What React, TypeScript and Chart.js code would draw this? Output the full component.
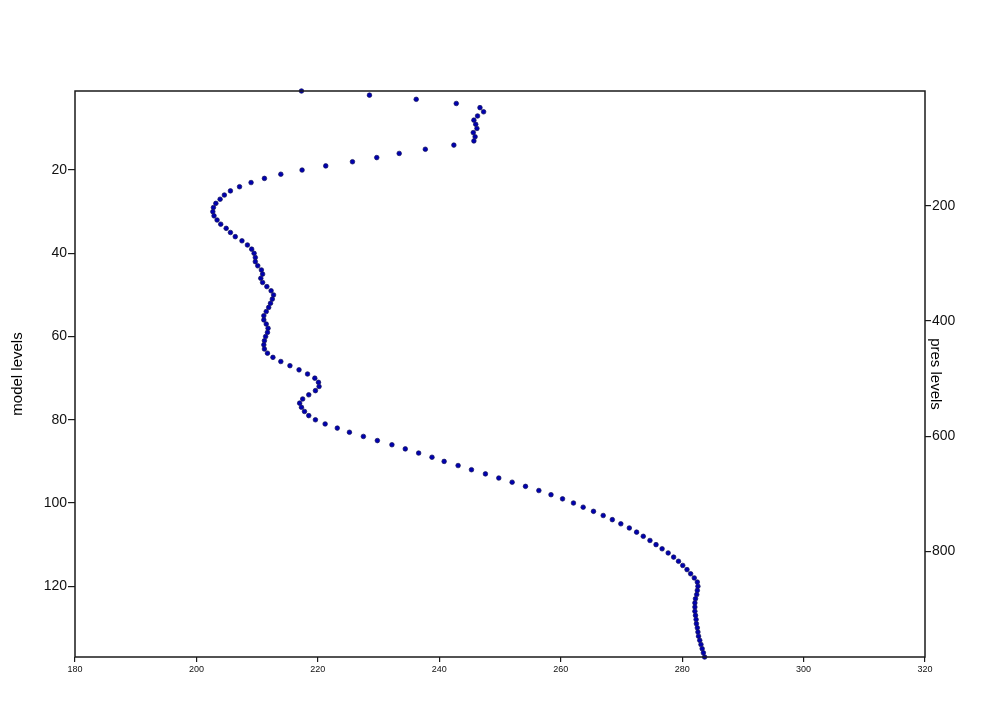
import React, { useEffect, useRef } from 'react';
import { Chart, registerables } from 'chart.js';

Chart.register(...registerables);

// temperature (K) on each model level, level 1 at the top
const temperature: number[] = [
  217.3, 228.5, 236.2, 242.8, 246.7, 247.3, 246.3, 245.7, 246.0, 246.2,
  245.6, 245.9, 245.7, 242.4, 237.7, 233.4, 229.7, 225.7, 221.3, 217.4,
  213.9, 211.2, 209.0, 207.1, 205.6, 204.6, 203.9, 203.2, 202.8, 202.7,
  202.9, 203.4, 204.0, 204.9, 205.6, 206.4, 207.5, 208.4, 209.1, 209.5,
  209.7, 209.7, 210.1, 210.7, 210.9, 210.6, 210.9, 211.6, 212.3, 212.7,
  212.5, 212.2, 211.9, 211.5, 211.1, 211.1, 211.5, 211.8, 211.7, 211.4,
  211.2, 211.1, 211.2, 211.7, 212.6, 213.9, 215.4, 216.9, 218.3, 219.5,
  220.1, 220.2, 219.6, 218.5, 217.5, 217.0, 217.3, 217.8, 218.5, 219.6,
  221.2, 223.2, 225.2, 227.5, 229.8, 232.2, 234.4, 236.6, 238.8, 240.8,
  243.1, 245.3, 247.6, 249.8, 252.0, 254.2, 256.4, 258.4, 260.3, 262.1,
  263.7, 265.4, 267.0, 268.5, 269.9, 271.3, 272.5, 273.6, 274.7, 275.7,
  276.7, 277.7, 278.6, 279.4, 280.1, 280.8, 281.4, 282.0, 282.5, 282.6,
  282.5, 282.4, 282.2, 282.1, 282.1, 282.1, 282.2, 282.3, 282.35, 282.5,
  282.6, 282.7, 282.9, 283.1, 283.3, 283.5, 283.7,
];
const modelLevels: number[] = temperature.map((_, i) => i + 1);

const xTicks = [180, 200, 220, 240, 260, 280, 300, 320];
const levelTicks = [20, 40, 60, 80, 100, 120];
const presTicks = [200, 400, 600, 800];

const FONT = '"Liberation Sans", Arial, sans-serif';
const AXIS = '#1a1a1a';

const frameAndTitles = {
  id: 'frameAndTitles',
  afterDraw(chart: any) {
    const { ctx, chartArea } = chart;
    ctx.save();
    ctx.strokeStyle = AXIS;
    ctx.lineWidth = 1.5;
    ctx.strokeRect(chartArea.left, chartArea.top, chartArea.right - chartArea.left, chartArea.bottom - chartArea.top);
    const midY = (chartArea.top + chartArea.bottom) / 2;
    ctx.fillStyle = '#000';
    ctx.font = `15px ${FONT}`;
    ctx.textAlign = 'center';
    ctx.textBaseline = 'middle';
    ctx.translate(18, midY);
    ctx.rotate(-Math.PI / 2);
    ctx.fillText('model levels', 0, 0);
    ctx.restore();
    ctx.save();
    ctx.fillStyle = '#000';
    ctx.font = `15px ${FONT}`;
    ctx.textAlign = 'center';
    ctx.textBaseline = 'middle';
    ctx.translate(935, midY);
    ctx.rotate(Math.PI / 2);
    ctx.fillText('pres levels', 0, 0);
    ctx.restore();
  },
};

const App: React.FC = () => {
  const canvasRef = useRef<HTMLCanvasElement | null>(null);

  useEffect(() => {
    if (!canvasRef.current) return;
    const chart = new Chart(canvasRef.current, {
      type: 'scatter',
      data: {
        datasets: [
          {
            data: temperature.map((t, i) => ({ x: t, y: modelLevels[i] })),
            backgroundColor: '#0000b0',
            borderColor: '#14145a',
            borderWidth: 0.7,
            pointRadius: 2.3,
            clip: false as any,
          },
        ],
      },
      options: {
        responsive: false,
        animation: false,
        layout: { padding: { top: 91, left: 0, right: 0, bottom: 0 } },
        plugins: { legend: { display: false }, tooltip: { enabled: false } },
        scales: {
          x: {
            type: 'linear',
            min: 180,
            max: 320,
            afterBuildTicks: (s: any) => { s.ticks = xTicks.map((v) => ({ value: v })); },
            afterFit: (s: any) => { s.height = 50; },
            grid: { drawOnChartArea: false, tickLength: 5, color: AXIS, lineWidth: 1.2 },
            border: { display: false },
            ticks: { font: { family: FONT, size: 9 }, color: '#111', padding: 2, maxRotation: 0 },
          },
          y: {
            type: 'linear',
            position: 'left',
            reverse: true,
            min: 1,
            max: 137,
            afterBuildTicks: (s: any) => { s.ticks = levelTicks.map((v) => ({ value: v })); },
            afterFit: (s: any) => { s.width = 75; },
            grid: { drawOnChartArea: false, tickLength: 7, color: AXIS, lineWidth: 1.2 },
            border: { display: false },
            ticks: { font: { family: FONT, size: 14 }, color: '#111', padding: 1 },
          },
          y2: {
            type: 'linear',
            position: 'right',
            reverse: true,
            min: 0,
            max: 984,
            afterBuildTicks: (s: any) => { s.ticks = presTicks.map((v) => ({ value: v })); },
            afterFit: (s: any) => { s.width = 75; },
            grid: { drawOnChartArea: false, tickLength: 6, color: AXIS, lineWidth: 1.2 },
            border: { display: false },
            ticks: { font: { family: FONT, size: 14 }, color: '#111', padding: 1 },
          },
        },
      },
      plugins: [frameAndTitles],
    });
    return () => chart.destroy();
  }, []);

  return (
    <div style={{ position: 'fixed', left: 0, top: 0, width: 1000, height: 707, background: '#fff' }}>
      <canvas ref={canvasRef} width={1000} height={707}></canvas>
    </div>
  );
};

export default App;
